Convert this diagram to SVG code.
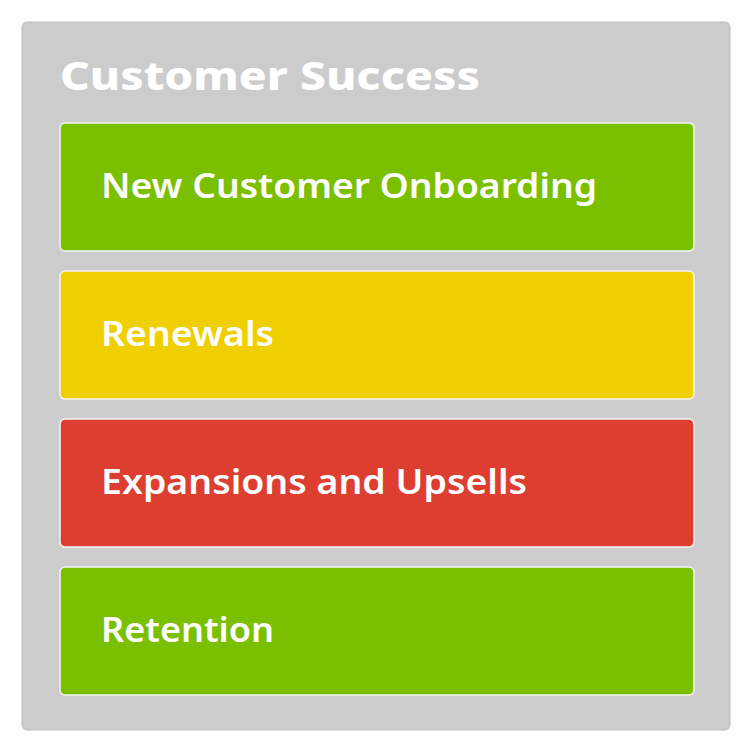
<svg xmlns="http://www.w3.org/2000/svg" width="750" height="752" viewBox="0 0 750 752">
<style>
.box{stroke:#f4f4f4;stroke-width:1.5}
.t{font-family:"Noto Sans","Open Sans",sans-serif;font-weight:600;font-size:34px;fill:#ffffff}
.title{font-family:"Noto Sans","Open Sans",sans-serif;font-weight:800;font-size:40px;fill:#ffffff}
</style>
<rect width="750" height="752" fill="#ffffff"/>
<g id="container">
<rect x="22" y="22" width="708" height="708" rx="5" fill="#cccccc" stroke="#bdbdbd" stroke-width="1"/>
<text class="title" x="60" y="90" textLength="420" lengthAdjust="spacingAndGlyphs">Customer Success</text>
</g>
<g id="onboarding">
<rect class="box" x="60" y="123" width="634" height="128" rx="5" fill="#7bc000"/>
<text class="t" x="101" y="198" textLength="496" lengthAdjust="spacingAndGlyphs">New Customer Onboarding</text>
</g>
<g id="renewals">
<rect class="box" x="60" y="271" width="634" height="128" rx="5" fill="#f0cf00"/>
<text class="t" x="101" y="346" textLength="173" lengthAdjust="spacingAndGlyphs">Renewals</text>
</g>
<g id="expansions">
<rect class="box" x="60" y="419" width="634" height="128" rx="5" fill="#de3e2f"/>
<text class="t" x="101" y="494" textLength="426" lengthAdjust="spacingAndGlyphs">Expansions and Upsells</text>
</g>
<g id="retention">
<rect class="box" x="60" y="567" width="634" height="128" rx="5" fill="#7bc000"/>
<text class="t" x="101" y="642" textLength="173" lengthAdjust="spacingAndGlyphs">Retention</text>
</g>
<g id="connectors"/>
</svg>
